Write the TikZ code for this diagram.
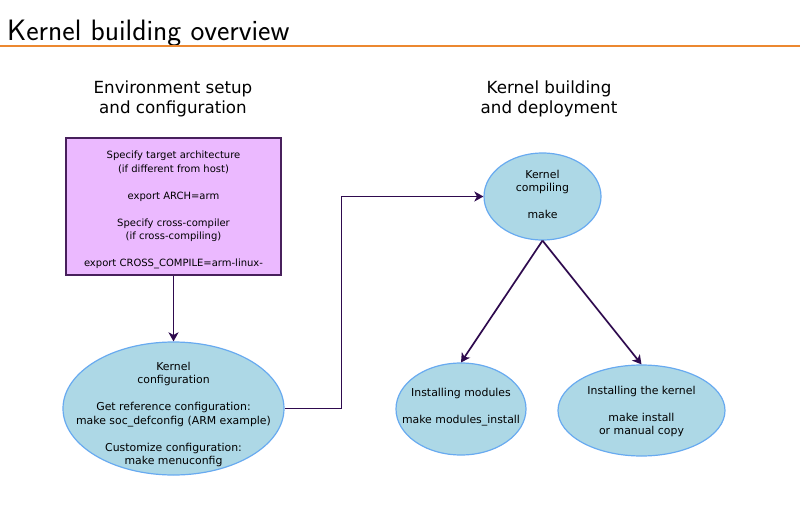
\documentclass[tikz,border=0pt]{standalone}
\usepackage{fontspec}
\newfontfamily\diafont{DejaVu Sans}
\usetikzlibrary{shapes.geometric,arrows.meta}

\definecolor{rule}{RGB}{236,136,48}
\definecolor{setupfill}{RGB}{235,185,255}
\definecolor{setupline}{RGB}{72,32,92}
\definecolor{stepfill}{RGB}{173,216,230}
\definecolor{stepline}{RGB}{104,170,240}
\definecolor{flowline}{RGB}{46,10,78}

\newcommand{\gap}{\\[13.5pt]}

\begin{document}
\begin{tikzpicture}[x=1pt,y=-1pt,
        head/.style={font=\diafont\fontsize{16.7}{20}\selectfont,align=center},
        txt/.style={font=\diafont\fontsize{10}{13.5}\selectfont,align=center,inner sep=0pt},
        bigtxt/.style={txt,font=\diafont\fontsize{10.9}{13.5}\selectfont},
        setupbox/.style={draw=setupline,fill=setupfill,line width=1.6pt,minimum width=215,minimum height=137},
        stepell/.style={ellipse,draw=stepline,fill=stepfill,line width=1.2pt,inner sep=0pt},
        flow/.style={draw=flowline,line width=1.7pt,-{Stealth[length=9pt,width=10pt,inset=2.5pt]}}]
        \useasboundingbox (0,0) rectangle (800,506);

        % title
        \path (7,40) node[anchor=base west,inner sep=0pt,font=\sffamily\fontsize{29.5}{34}\selectfont] (title) {Kernel building overview};
        \draw [rule,line width=2pt] (0,46) -- (800,46);

        % column heads
        \path (173,99) node[head] (envhead) {Environment setup\\and configuration};
        \path (549,99) node[head] (kernhead) {Kernel building\\and deployment};

        % environment setup
        \path (173.5,206.5) node[setupbox] (setup) {};
        \path (173.5,210) node[txt] (setuptxt) {Specify target architecture\\(if different from host)\gap
            export ARCH=arm\gap
            Specify cross-compiler\\(if cross-compiling)\gap
            export CROSS\_COMPILE=arm-linux-};

        % kernel configuration
        \path (173.5,408.5) node[stepell,minimum width=221,minimum height=133] (conf) {};
        \path (173.5,414.5) node[bigtxt] (conftxt) {Kernel\\configuration\gap
            Get reference configuration:\\make soc\_defconfig (ARM example)\gap
            Customize configuration:\\make menuconfig};

        % kernel compiling
        \path (542.5,196.5) node[stepell,minimum width=117,minimum height=87] (compile) {};
        \path (542.5,194.5) node[bigtxt] (compiletxt) {Kernel\\compiling\gap make};

        % installing modules
        \path (461,409) node[stepell,minimum width=130,minimum height=92] (modules) {};
        \path (461,407.5) node[bigtxt] (modulestxt) {Installing modules\gap make modules\_install};

        % installing the kernel
        \path (641.5,410.5) node[stepell,minimum width=167,minimum height=91] (install) {};
        \path (641.5,411.5) node[bigtxt] (installtxt) {Installing the kernel\gap make install\\or manual copy};

        % flow
        \draw [flow] (setup) -- (conf);
        \draw [flow] (conf.east) -- ++(57,0) |- (compile.west);
        \draw [flow] (compile.south) -- (modules.north);
        \draw [flow] (compile.south) -- (install.north);

    \end{tikzpicture}
\end{document}
